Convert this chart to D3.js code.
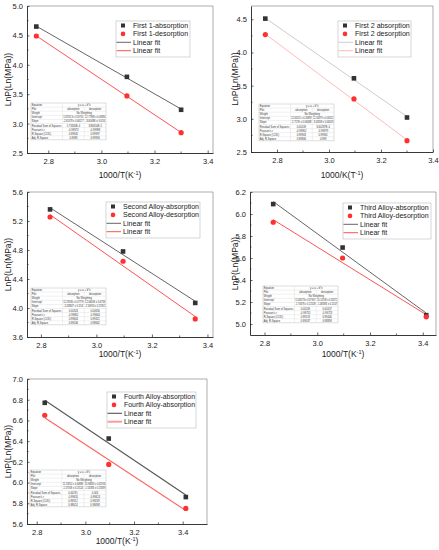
<!DOCTYPE html>
<html>
<head>
<meta charset="utf-8">
<script src="https://cdn.jsdelivr.net/npm/d3@7"></script>
<style>
  body { margin: 0; background: #fff; }
  svg { font-family: "Liberation Sans", Arial, sans-serif; }
</style>
</head>
<body>
<svg width="439" height="550"></svg>
<script>
// 1000/T values for each run
const xFirst = [2.755, 3.096, 3.300]
const xSecond = [2.833, 3.096, 3.356]
const xThird = [2.833, 3.096, 3.413]

// LnP values
const first1Abs = [4.65, 3.795, 3.235]
const first1Des = [4.49, 3.47, 2.845]
const first2Abs = [4.51, 3.61, 3.02]
const first2Des = [4.27, 3.30, 2.67]
const secondAbs = [5.36, 4.78, 4.07]
const secondDes = [5.255, 4.645, 3.85]
const thirdAbs = [6.09, 5.695, 5.08]
const thirdDes = [5.925, 5.60, 5.065]
const fourthAbs = [6.77, 6.425, 5.86]
const fourthDes = [6.65, 6.175, 5.75]

// fit tables (as printed by the software)
const tableLabels = ["Equation", "Plot", "Weight", "Intercept", "Slope",
  "Residual Sum of Squares", "Pearson's r", "R-Square (COD)", "Adj. R-Square"]
const table1 = [["11.87013 ± 0.18741", "12.77968 ± 0.04894"], ["-2.61478 ± 0.06127", "-3.00086 ± 0.016"],
  ["5.73305E-4", "3.86654E-5"], ["-0.99973", "-0.99998"], ["0.99945", "0.99997"], ["0.9989", "0.99994"]]
const table2 = [["12.00515 ± 0.20893", "12.34379 ± 0.00512"], ["-2.7176 ± 0.06468", "-3.02809 ± 0.00543"],
  ["0.00109", "6.60287E-4"], ["-0.99952", "-0.99979"], ["0.99903", "0.99961"], ["0.99806", "0.999"]]
const table3 = [["12.29536 ± 0.47779", "12.06094 ± 0.6756"], ["-2.43807 ± 0.154", "-2.50953 ± 0.21951"],
  ["0.00324", "0.00656"], ["-0.99801", "-0.99605"], ["0.99603", "0.99321"], ["0.99206", "0.98662"]]
const table4 = [["11.09278 ± 0.37907", "10.14748 ± 0.34571"], ["-1.74476 ± 0.12108", "-1.48383 ± 0.1107"],
  ["0.00249", "0.00207"], ["-0.99755", "-0.99723"], ["0.99519", "0.99446"], ["0.99037", "0.98893"]]
const table5 = [["11.25852 ± 0.40888", "10.96833 ± 0.41956"], ["-1.57568 ± 0.13124", "-1.53383 ± 0.13339"],
  ["0.00291", "0.003"], ["-0.99655", "-0.99624"], ["0.99312", "0.99249"], ["0.98624", "0.98498"]]

const panels = [
  { box: [27, 6, 213, 153], xDom: [2.72, 3.42], yDom: [2.5, 5.0], yTicks: [2.5, 3.0, 3.5, 4.0, 4.5, 5.0],
    x: xFirst, abs: first1Abs, des: first1Des, names: ["First 1-absorption", "First 1-desorption"],
    xLabel: "1000/T(K", xLabelY: 178, yLabelX: 10.5, legend: [116, 21, 74], table: table1, tablePos: [31, 103, 75],
    lineGray: "#555", lineRed: "#ff4040", lineW: 0.9 },
  { box: [251, 6, 433, 152], xDom: [2.7, 3.4], yDom: [2.5, 4.7], yTicks: [2.5, 3.0, 3.5, 4.0, 4.5],
    x: xFirst, abs: first2Abs, des: first2Des, names: ["First 2 absorption", "First 2 desorption"],
    xLabel: "1000/K(T", xLabelY: 178, yLabelX: 237.5, legend: [338, 21, 73], table: table2, tablePos: [259, 104, 75],
    lineGray: "#aaa", lineRed: "#ff8c8c", lineW: 0.6 },
  { box: [27, 192, 213, 337], xDom: [2.75, 3.42], yDom: [3.6, 5.6], yTicks: [3.6, 4.0, 4.4, 4.8, 5.2, 5.6],
    x: xSecond, abs: secondAbs, des: secondDes, names: ["Second Alloy-absorption", "Second Alloy-desorption"],
    xLabel: "1000/T(K", xLabelY: 357, yLabelX: 10.5, legend: [106, 202, 94], table: table3, tablePos: [31, 288, 75],
    lineGray: "#555", lineRed: "#ff4040", lineW: 0.9 },
  { box: [250, 192, 436, 335], xDom: [2.745, 3.45], yDom: [4.9, 6.2], yTicks: [5.0, 5.2, 5.4, 5.6, 5.8, 6.0, 6.2],
    x: xThird, abs: thirdAbs, des: thirdDes, names: ["Third Alloy-absorption", "Third Alloy-desorption"],
    xLabel: "1000/T(K", xLabelY: 357, yLabelX: 237.5, legend: [343, 203, 88], table: table4, tablePos: [263, 286, 75],
    lineGray: "#555", lineRed: "#ff4040", lineW: 0.9 },
  { box: [27, 379, 207, 524], xDom: [2.76, 3.5], yDom: [5.6, 7.0], yTicks: [5.6, 5.8, 6.0, 6.2, 6.4, 6.6, 6.8, 7.0],
    x: xThird, abs: fourthAbs, des: fourthDes, names: ["Fourth Alloy-absorption", "Fourth Alloy-absorption"],
    xLabel: "1000/T(K", xLabelY: 544, yLabelX: 10.5, legend: [107, 392, 89], table: table5, tablePos: [30, 470, 76],
    lineGray: "#555", lineRed: "#ff6060", lineW: 1.1, legendRedW: 2, legendRed: "#ff9a9a" }
]

const svg = d3.select("svg")

// simple least squares fit, like the software's linear fit
function linFit(xs, ys){
  const mx = d3.mean(xs), my = d3.mean(ys)
  const sxy = d3.sum(xs, (x, i) => (x - mx) * (ys[i] - my))
  const sxx = d3.sum(xs, x => (x - mx) * (x - mx))
  const b = sxy / sxx
  return { a: my - b * mx, b: b }
}

// squeeze tiny table text into its cell
function fitText(sel, maxW){
  sel.each(function(){
    if (this.getComputedTextLength() > maxW) {
      d3.select(this).attr("textLength", maxW).attr("lengthAdjust", "spacingAndGlyphs")
    }
  })
}

function drawPanel(p){
  const [l, t, r, b] = p.box
  const x = d3.scaleLinear().domain(p.xDom).range([l, r])
  const y = d3.scaleLinear().domain(p.yDom).range([b, t])
  const g = svg.append("g")

  // frame
  g.append("line").attr("x1", l).attr("x2", r).attr("y1", t).attr("y2", t).attr("stroke", "#777").attr("stroke-width", 0.6)
  g.append("line").attr("x1", r).attr("x2", r).attr("y1", t).attr("y2", b).attr("stroke", "#777").attr("stroke-width", 0.6)

  const xTicks = [2.8, 3.0, 3.2, 3.4].filter(v => v >= p.xDom[0] && v <= p.xDom[1] + 1e-9)
  const xMinor = [2.7, 2.9, 3.1, 3.3, 3.5].filter(v => v > p.xDom[0] && v < p.xDom[1])
  const yStep = p.yTicks[1] - p.yTicks[0]
  const yMinor = d3.range(p.yTicks[0] - yStep, p.yDom[1] + yStep, yStep).map(v => v + yStep / 2)
    .filter(v => v > p.yDom[0] && v < p.yDom[1])

  const xAxis = g.append("g").attr("transform", `translate(0,${b})`)
    .call(d3.axisBottom(x).tickValues(xTicks).tickFormat(d3.format(".1f")).tickSize(-2.5).tickSizeOuter(0).tickPadding(6))
  xAxis.append("g").selectAll("line").data(xMinor).join("line")
    .attr("x1", d => x(d)).attr("x2", d => x(d)).attr("y1", 0).attr("y2", -1.5).attr("stroke", "#222").attr("stroke-width", 0.7)

  const yAxis = g.append("g").attr("transform", `translate(${l},0)`)
    .call(d3.axisLeft(y).tickValues(p.yTicks).tickFormat(d3.format(".1f")).tickSize(-2.5).tickSizeOuter(0).tickPadding(4))
  yAxis.append("g").selectAll("line").data(yMinor).join("line")
    .attr("y1", d => y(d)).attr("y2", d => y(d)).attr("x1", 0).attr("x2", 1.5).attr("stroke", "#222").attr("stroke-width", 0.7)

  g.selectAll(".domain").attr("stroke", "#222").attr("stroke-width", 0.9)
  g.selectAll(".tick line").attr("stroke", "#222").attr("stroke-width", 0.7)
  g.selectAll(".tick text").attr("font-size", 7.5).attr("fill", "#222").attr("font-family", "Liberation Sans, Arial, sans-serif")

  // axis titles
  const xt = g.append("text").attr("x", (l + r) / 2).attr("y", p.xLabelY).attr("text-anchor", "middle")
    .attr("font-size", 8.5).attr("fill", "#222").text(p.xLabel)
  xt.append("tspan").attr("dy", -3).attr("font-size", 5.5).text("-1")
  xt.append("tspan").attr("dy", 3).text(")")

  g.append("text").attr("transform", `translate(${p.yLabelX},${(t + b) / 2}) rotate(-90)`)
    .attr("text-anchor", "middle").attr("font-size", 8.5).attr("fill", "#222").text("LnP(Ln(MPa))")

  // fit lines
  const series = [
    { ys: p.abs, color: p.lineGray },
    { ys: p.des, color: p.lineRed }
  ]
  const x0 = d3.min(p.x), x1 = d3.max(p.x)
  series.forEach(s => {
    const f = linFit(p.x, s.ys)
    g.append("line").attr("x1", x(x0)).attr("x2", x(x1))
      .attr("y1", y(f.a + f.b * x0)).attr("y2", y(f.a + f.b * x1))
      .attr("stroke", s.color).attr("stroke-width", p.lineW)
  })

  // points
  g.selectAll("rect.abs").data(p.abs).join("rect").attr("class", "abs")
    .attr("x", (d, i) => x(p.x[i]) - 2.3).attr("y", d => y(d) - 2.3)
    .attr("width", 4.6).attr("height", 4.6).attr("fill", "#333")
  g.selectAll("circle.des").data(p.des).join("circle").attr("class", "des")
    .attr("cx", (d, i) => x(p.x[i])).attr("cy", d => y(d)).attr("r", 2.6).attr("fill", "#ff3030")

  // legend
  const [lx, ly, lw] = p.legend
  const lg = g.append("g").attr("transform", `translate(${lx},${ly})`)
  lg.append("rect").attr("width", lw).attr("height", 36).attr("fill", "#fff").attr("stroke", "#bbb").attr("stroke-width", 0.6)
  const rowH = 8.4
  lg.append("rect").attr("x", 5).attr("y", 4.5 - 2).attr("width", 4).attr("height", 4).attr("fill", "#333")
  lg.append("circle").attr("cx", 7).attr("cy", 4.5 + rowH).attr("r", 2.3).attr("fill", "#ff3030")
  lg.append("line").attr("x1", 0.5).attr("x2", 15).attr("y1", 4.5 + 2 * rowH).attr("y2", 4.5 + 2 * rowH)
    .attr("stroke", p.lineGray).attr("stroke-width", p.lineW)
  lg.append("line").attr("x1", 0.5).attr("x2", 15).attr("y1", 4.5 + 3 * rowH).attr("y2", 4.5 + 3 * rowH)
    .attr("stroke", p.legendRed || p.lineRed).attr("stroke-width", p.legendRedW || p.lineW)
  const labels = [p.names[0], p.names[1], "Linear fit", "Linear fit"]
  lg.selectAll("text").data(labels).join("text")
    .attr("x", 17).attr("y", (d, i) => 4.5 + i * rowH + 2.5)
    .attr("font-size", 7.1).attr("fill", "#222").text(d => d)
    .call(fitText, lw - 18)

  // results table
  const [tx, ty, tw] = p.tablePos
  const th = 4.1
  const c1 = tw * 0.42, c2 = tw * 0.29
  const fs = 2.6
  const tg = g.append("g").attr("transform", `translate(${tx},${ty})`)
  tg.append("rect").attr("width", tw).attr("height", th * 9).attr("fill", "#fff").attr("stroke", "#aaa").attr("stroke-width", 0.4)
  tg.selectAll("line.row").data(d3.range(1, 9)).join("line").attr("class", "row")
    .attr("x1", 0).attr("x2", tw).attr("y1", d => d * th).attr("y2", d => d * th)
    .attr("stroke", "#ccc").attr("stroke-width", 0.3)
  tg.append("line").attr("x1", c1).attr("x2", c1).attr("y1", 0).attr("y2", th * 9).attr("stroke", "#ccc").attr("stroke-width", 0.3)
  tg.selectAll("line.col").data(d3.range(9).filter(i => i !== 0 && i !== 2)).join("line").attr("class", "col")
    .attr("x1", c1 + c2).attr("x2", c1 + c2).attr("y1", d => d * th).attr("y2", d => (d + 1) * th)
    .attr("stroke", "#ccc").attr("stroke-width", 0.3)
  tg.selectAll("text.lab").data(tableLabels).join("text").attr("class", "lab")
    .attr("x", 0.8).attr("y", (d, i) => i * th + 3).attr("font-size", fs).attr("fill", "#333").text(d => d)
    .call(fitText, c1 - 1.6)
  const cells = [["y = a + b*x"], ["absorption", "desorption"], ["No Weighting"]].concat(p.table)
  cells.forEach((row, i) => {
    if (row.length === 1) {
      tg.append("text").attr("x", c1 + (tw - c1) / 2).attr("y", i * th + 3).attr("text-anchor", "middle")
        .attr("font-size", fs).attr("fill", "#333").text(row[0])
    } else {
      row.forEach((v, j) => {
        tg.append("text").attr("x", c1 + c2 * j + c2 / 2).attr("y", i * th + 3).attr("text-anchor", "middle")
          .attr("font-size", fs).attr("fill", "#333").text(v)
          .call(fitText, c2 - 1.6)
      })
    }
  })
}

panels.forEach(drawPanel)
</script>
</body>
</html>
